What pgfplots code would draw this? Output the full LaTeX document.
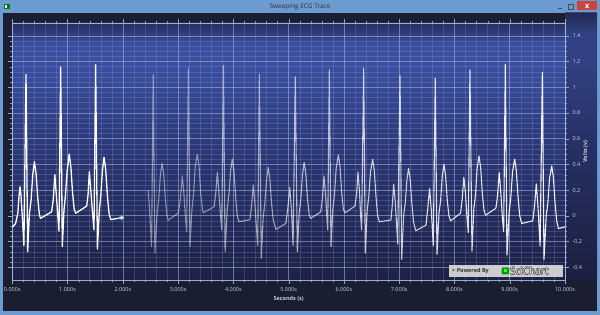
\documentclass[border=0pt]{standalone}
\usepackage{fontspec}
\setmainfont{Open Sans}
\usepackage{pgfplots}
\pgfplotsset{compat=1.18}
\definecolor{frame}{HTML}{6B9BD1}
\definecolor{inner}{HTML}{1B1D31}
\definecolor{bgbot}{HTML}{1D2145}
\definecolor{bgmid}{HTML}{2B3777}
\definecolor{bgbright}{HTML}{3B4EA0}
\definecolor{bgtop}{HTML}{262E5E}
\definecolor{gridc}{HTML}{A8BCE0}
\definecolor{lbl}{HTML}{C8D0E0}
\definecolor{closered}{HTML}{C7463E}
\pgfdeclareverticalshading{plotbg}{100bp}{color(0bp)=(bgbot); color(25bp)=(bgbot); color(50bp)=(bgmid); color(67bp)=(bgbright); color(71bp)=(bgbright); color(75bp)=(bgtop); color(100bp)=(bgtop)}
\begin{document}
\begin{tikzpicture}[x=1pt,y=1pt]
\useasboundingbox (0,0) rectangle (600,315);
\fill[frame] (0,0) rectangle (600,315);
\fill[inner] (3,3.5) rectangle (597,302);
% title bar
\node[text=black!80, font=\fontsize{6.5}{7}\selectfont] at (300,307.8) {Sweeping ECG Trace};
\fill[green!50!black] (4,306) rectangle (10,311);
\fill[white] (5,307) rectangle (7,310);
\draw[black!70, line width=0.8pt] (557.5,307) -- (562,307);
\draw[black!70, line width=0.6pt] (568.5,306) rectangle (573,310.5);
\fill[closered] (577,304.5) rectangle (597,313.5);
\draw[white, line width=0.9pt] (585.5,307) -- (588.5,311) (585.5,311) -- (588.5,307);
% plot background
\shade[shading=plotbg] (12.3,35) rectangle (565,292);
\shade[shading=plotbg, opacity=0.75] (565,35) rectangle (597,302);
\begin{axis}[
  at={(12.3pt,35pt)}, anchor=south west,
  scale only axis, width=552.7pt, height=257pt,
  xmin=0, xmax=10, ymin=-0.5, ymax=1.5,
  axis line style={gridc, opacity=0.9},
  xtick={0,1,...,10},
  xticklabels={0.000s,1.000s,2.000s,3.000s,4.000s,5.000s,6.000s,7.000s,8.000s,9.000s,10.000s},
  ytick={-0.4,-0.2,0,0.2,0.4,0.6,0.8,1,1.2,1.4},
  yticklabels={-0.4,-0.2,0,0.2,0.4,0.6,0.8,1,1.2,1.4},
  yticklabel pos=right,
  minor x tick num=4, minor y tick num=4,
  grid=both,
  major grid style={gridc, opacity=0.55, line width=0.5pt},
  minor grid style={gridc, opacity=0.2, line width=0.4pt},
  tick align=outside,
  major tick length=4pt, minor tick length=2pt,
  tick style={gridc, opacity=0.85},
  ticklabel style={font=\fontsize{5.5}{6}\selectfont, text=lbl},
  /pgf/number format/assume math mode=true,
  xlabel={Seconds (s)}, ylabel={Volts (v)},
  label style={font=\bfseries\fontsize{5.5}{6}\selectfont, text=lbl},
  xlabel style={at={(rel axis cs:0.5,0)}, anchor=center, yshift=-19pt},
  ylabel style={at={(axis description cs:1.037,0.5)}, anchor=center},
]
\addplot[white, line width=1.3pt, line join=round] coordinates {
(0.00,-0.09) (0.06,-0.06) (0.10,0.02) (0.125,0.17) (0.14,0.225) (0.155,0.17) (0.18,0.0) (0.21,-0.23) (0.248,1.10) (0.278,-0.28) (0.31,0.02) (0.34,0.12) (0.37,0.32) (0.40,0.42) (0.43,0.33) (0.46,0.14) (0.49,0.01) (0.51,-0.02) (0.71,0.03) (0.74,0.12) (0.77,0.32) (0.79,0.2) (0.82,0.02) (0.845,-0.12) (0.875,1.157) (0.905,-0.24) (0.935,0.045) (0.96,0.15) (0.99,0.34) (1.03,0.48) (1.06,0.38) (1.09,0.18) (1.12,0.05) (1.147,0.02) (1.346,0.075) (1.37,0.16) (1.394,0.343) (1.42,0.2) (1.45,0.03) (1.478,-0.11) (1.508,1.175) (1.54,-0.26) (1.575,0.045) (1.60,0.15) (1.63,0.35) (1.66,0.455) (1.69,0.36) (1.72,0.16) (1.75,0.02) (1.78,-0.03) (1.979,-0.015)
};
\addplot[white, line width=1.1pt, opacity=0.45, line join=round] coordinates {
(2.46,0.20) (2.49,0.0) (2.52,-0.24) (2.55,1.097) (2.58,-0.29) (2.62,0.02) (2.65,0.13) (2.68,0.32) (2.71,0.41) (2.74,0.32) (2.77,0.13) (2.80,0.0) (2.82,-0.035) (3.0,0.02) (3.04,0.12) (3.076,0.31) (3.10,0.2) (3.13,0.0) (3.155,-0.125) (3.185,1.149) (3.215,-0.24) (3.25,0.05) (3.28,0.17) (3.31,0.38) (3.347,0.48) (3.38,0.38) (3.41,0.17) (3.44,0.05) (3.456,0.023) (3.65,0.07)
};
\addplot[white, line width=1.1pt, opacity=0.55, line join=round] coordinates {
(3.65,0.07) (3.68,0.17) (3.71,0.338) (3.735,0.2) (3.765,0.02) (3.79,-0.11) (3.82,1.17) (3.85,-0.28) (3.89,0.06) (3.92,0.17) (3.95,0.35) (3.98,0.44) (4.01,0.35) (4.04,0.15) (4.07,0.0) (4.10,-0.047) (4.30,-0.03) (4.33,0.08) (4.36,0.24) (4.385,0.12) (4.41,-0.05) (4.44,-0.23) (4.47,1.10) (4.505,-0.33) (4.54,-0.01) (4.57,0.1) (4.60,0.28) (4.63,0.377) (4.66,0.29) (4.69,0.1) (4.72,-0.03) (4.77,-0.106) (4.95,-0.06)
};
\addplot[white, line width=1.1pt, opacity=0.65, line join=round] coordinates {
(4.95,-0.06) (4.99,0.08) (5.02,0.22) (5.05,0.05) (5.08,-0.23) (5.12,1.08) (5.157,-0.28) (5.19,0.02) (5.22,0.13) (5.25,0.32) (5.28,0.416) (5.31,0.33) (5.34,0.14) (5.37,0.01) (5.40,-0.02) (5.58,0.03) (5.61,0.13) (5.64,0.31) (5.665,0.18) (5.69,0.0) (5.707,-0.11) (5.736,1.136) (5.766,-0.24) (5.80,0.05) (5.83,0.17) (5.86,0.37) (5.90,0.473) (5.93,0.38) (5.96,0.18) (5.99,0.05) (6.02,0.023) (6.20,0.075)
};
\addplot[white, line width=1.1pt, opacity=0.75, line join=round] coordinates {
(6.20,0.075) (6.23,0.17) (6.255,0.34) (6.28,0.2) (6.30,0.02) (6.32,-0.11) (6.357,1.149) (6.387,-0.29) (6.42,0.04) (6.45,0.15) (6.48,0.34) (6.52,0.44) (6.55,0.35) (6.58,0.15) (6.61,0.0) (6.64,-0.047) (6.85,-0.033) (6.875,0.08) (6.90,0.245) (6.93,0.1) (6.95,-0.05) (6.973,-0.22) (7.015,1.09) (7.045,-0.34) (7.08,0.0) (7.11,0.1) (7.14,0.28) (7.17,0.37) (7.20,0.28) (7.23,0.09) (7.26,-0.05) (7.30,-0.117) (7.485,-0.073)
};
\addplot[white, line width=1.1pt, opacity=0.85, line join=round] coordinates {
(7.485,-0.073) (7.52,0.07) (7.55,0.213) (7.58,0.05) (7.617,-0.23) (7.653,1.07) (7.684,-0.30) (7.72,0.02) (7.75,0.12) (7.78,0.31) (7.81,0.40) (7.84,0.31) (7.87,0.12) (7.90,0.0) (7.93,-0.04) (8.11,0.02) (8.14,0.13) (8.17,0.30) (8.20,0.17) (8.225,0.0) (8.25,-0.13) (8.28,1.136) (8.317,-0.275) (8.35,0.05) (8.38,0.16) (8.41,0.37) (8.444,0.465) (8.475,0.37) (8.505,0.17) (8.535,0.04) (8.565,0.005) (8.75,0.058)
};
\addplot[white, line width=1.1pt, opacity=0.92, line join=round] coordinates {
(8.75,0.058) (8.78,0.16) (8.81,0.335) (8.835,0.2) (8.865,0.0) (8.89,-0.125) (8.92,1.18) (8.95,-0.306) (8.99,0.03) (9.02,0.14) (9.05,0.34) (9.09,0.44) (9.12,0.35) (9.15,0.15) (9.18,0.0) (9.217,-0.06) (9.416,-0.04) (9.45,0.08) (9.48,0.247) (9.51,0.08) (9.53,-0.08) (9.55,-0.236) (9.59,1.115) (9.62,-0.34) (9.66,0.0) (9.69,0.1) (9.72,0.29) (9.76,0.387) (9.79,0.3) (9.82,0.1) (9.85,-0.04) (9.88,-0.10) (10.0,-0.086)
};
\addplot[only marks, mark=*, mark size=3.2pt, draw=none, fill=cyan!50!white, opacity=0.35] coordinates {(1.979,-0.015)};
\addplot[only marks, mark=*, mark size=1.6pt, draw=cyan!40!white, fill=white] coordinates {(1.979,-0.015)};
\end{axis}
% Powered by SciChart
\fill[gray!25, opacity=0.9] (449,38) rectangle (563,50);
\node[anchor=west, inner sep=0pt, text=black!80, font=\bfseries\fontsize{5.5}{6}\selectfont] at (452,44) {> Powered By};
\fill[green!60!black, rounded corners=1pt] (501.5,40.5) rectangle (509,47.5);
\fill[green!80!white] (503.5,42.5) rectangle (507,45.5);
\foreach \dx/\dy in {0.35/0,-0.35/0,0/0.35,0/-0.35,0.25/0.25,-0.25/0.25,0.25/-0.25,-0.25/-0.25}{
  \node[anchor=west, inner sep=0pt, text=black!75, font=\fontsize{10}{10}\selectfont] at (510+\dx,44+\dy) {SciChart};
}
\node[anchor=west, inner sep=0pt, text=gray!15, font=\fontsize{10}{10}\selectfont] at (510,44) {SciChart};
\end{tikzpicture}
\end{document}
